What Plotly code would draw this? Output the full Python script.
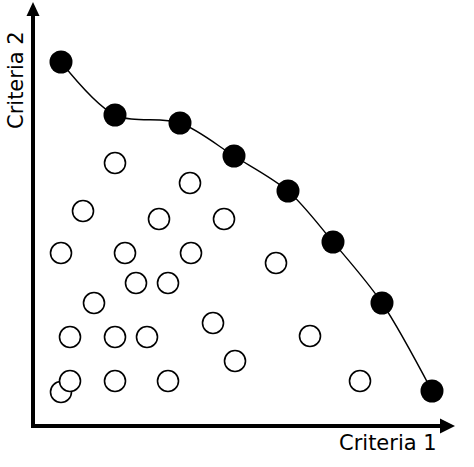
"""Pareto front sketch: Criteria 1 vs Criteria 2."""

import plotly.graph_objects as go

# Pareto-optimal (non-dominated) solutions, black dots joined by the front
FRONT_C1 = [28, 82, 147, 201, 255, 300, 349, 399]
FRONT_C2 = [364, 311, 303, 270, 235, 184, 123, 35]

# Dominated solutions, open circles
OTHER_C1 = [82, 157, 50, 126, 191, 28, 92, 158, 103, 135, 61, 180, 37, 82,
            114, 202, 28, 37, 82, 135, 243, 277, 327]
OTHER_C2 = [263, 243, 215, 207, 207, 173, 173, 173, 143, 143, 123, 103, 89,
            89, 89, 65, 34, 45, 45, 45, 163, 90, 45]

X_LABEL = "Criteria 1"
Y_LABEL = "Criteria 2"

W, H = 474, 467
FONT = "DejaVu Sans, Arial, sans-serif"

fig = go.Figure()

fig.add_trace(go.Scatter(
    x=OTHER_C1, y=OTHER_C2, mode="markers",
    marker=dict(size=21, color="white", line=dict(color="black", width=1.6)),
    hoverinfo="skip",
))
fig.add_trace(go.Scatter(
    x=FRONT_C1, y=FRONT_C2, mode="lines+markers",
    line=dict(color="black", width=1.4, shape="spline", smoothing=0.9),
    marker=dict(size=23, color="black"),
    hoverinfo="skip",
))

# hand-drawn style axes with arrowheads (1 data unit = 1 px)
axis = dict(color="black", width=4)
fig.add_shape(type="line", x0=0, x1=0, y0=-2, y1=412, line=axis)
fig.add_shape(type="line", x0=-2, x1=408, y0=0, y1=0, line=axis)
fig.add_shape(type="path", path="M 0 424 L -6.5 410 L 6.5 410 Z",
              fillcolor="black", line=dict(width=0))
fig.add_shape(type="path", path="M 422 0 L 407 7.5 L 407 -7.5 Z",
              fillcolor="black", line=dict(width=0))

fig.add_annotation(x=355, y=-17, text=X_LABEL, showarrow=False,
                   font=dict(size=21, color="black", family=FONT))
fig.add_annotation(x=-17, y=346, text=Y_LABEL, showarrow=False, textangle=-90,
                   font=dict(size=21, color="black", family=FONT))

fig.update_layout(
    width=W, height=H, autosize=False,
    margin=dict(l=0, r=0, t=0, b=0, pad=0),
    paper_bgcolor="white", plot_bgcolor="white",
    showlegend=False,
)
fig.update_xaxes(range=[-33, 441], visible=False, fixedrange=True)
fig.update_yaxes(range=[-41, 426], visible=False, fixedrange=True)

# drop the default page margin so the figure sits at the window corner
fig.write_html(
    "out.html",
    config={"displayModeBar": False, "staticPlot": True},
    post_script="document.body.style.margin='0';",
)
